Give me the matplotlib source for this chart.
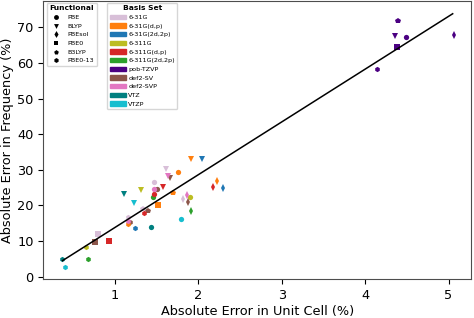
import matplotlib
matplotlib.use("Agg")
import matplotlib.pyplot as plt
from matplotlib.lines import Line2D
from matplotlib.patches import Patch

# legend entries
functionals = ["PBE", "BLYP", "PBEsol", "PBE0", "B3LYP", "PBE0-13"]
func_markers = {"PBE": "o", "BLYP": "v", "PBEsol": "d", "PBE0": "s", "B3LYP": "p", "PBE0-13": "h"}

basis_sets = ["6-31G", "6-31G(d,p)", "6-31G(2d,2p)", "6-311G", "6-311G(d,p)", "6-311G(2d,2p)",
              "pob-TZVP", "def2-SV", "def2-SVP", "VTZ", "VTZP"]
basis_colors = {
    "6-31G": "#d8bfd8", "6-31G(d,p)": "#ff7f0e", "6-31G(2d,2p)": "#1f77b4",
    "6-311G": "#bcbd22", "6-311G(d,p)": "#d62728", "6-311G(2d,2p)": "#2ca02c",
    "pob-TZVP": "#4b0082", "def2-SV": "#8c564b", "def2-SVP": "#e377c2",
    "VTZ": "#008080", "VTZP": "#17becf",
}

# points
cell_err = [0.37, 1.11, 1.43,
            0.40, 1.23, 1.79,
            0.68, 1.46, 1.91,
            0.65, 1.31, 1.90,
            0.76, 1.18, 1.40, 1.50, 1.66, 1.87,
            0.79, 1.15, 1.34, 1.47, 1.61, 1.81,
            0.93, 1.35, 1.47, 1.58, 2.17,
            1.16, 1.52, 1.70, 1.76, 1.91, 2.22,
            1.24, 2.04, 2.30,
            1.16, 1.47, 1.64, 1.86,
            4.39, 4.36, 4.49, 4.38, 4.14, 5.06]
freq_err = [5.0, 23.2, 13.9,
            2.8, 20.7, 16.1,
            5.0, 22.4, 18.5,
            8.4, 24.2, 22.3,
            9.6, 15.3, 18.5, 24.7, 27.8, 20.9,
            12.0, 16.7, 19.0, 26.7, 30.2, 21.8,
            10.0, 17.8, 23.3, 25.2, 25.1,
            14.8, 20.1, 23.4, 29.5, 33.1, 26.8,
            13.8, 33.1, 24.8,
            15.7, 24.7, 28.2, 23.0,
            71.9, 67.6, 67.2, 64.6, 58.3, 67.9]
point_basis = (["VTZ"] * 3 + ["VTZP"] * 3 + ["6-311G(2d,2p)"] * 3 + ["6-311G"] * 3
               + ["def2-SV"] * 6 + ["6-31G"] * 6 + ["6-311G(d,p)"] * 5 + ["6-31G(d,p)"] * 6
               + ["6-31G(2d,2p)"] * 3 + ["def2-SVP"] * 4 + ["pob-TZVP"] * 6)
point_func = (["PBE0-13", "BLYP", "PBE"] * 2
              + ["PBE0-13", "PBE", "PBEsol"]
              + ["PBE0-13", "BLYP", "PBE"]
              + ["PBE0", "PBE0-13", "B3LYP", "PBE", "BLYP", "PBEsol"] * 2
              + ["PBE0", "PBE0-13", "PBE", "BLYP", "PBEsol"]
              + ["PBE0-13", "PBE0", "B3LYP", "PBE", "BLYP", "PBEsol"]
              + ["PBE0-13", "BLYP", "PBEsol"]
              + ["PBE0-13", "PBE", "BLYP", "PBEsol"]
              + ["B3LYP", "BLYP", "PBE", "PBE0", "PBE0-13", "PBEsol"])

# linear fit line endpoints
fit_x = [0.37, 5.05]
fit_y = [4.5, 73.8]

fig = plt.figure(figsize=(4.74, 3.18), dpi=100)
ax = fig.add_axes([0.0914, 0.1226, 0.9023, 0.8745])

for x, y, b, f in zip(cell_err, freq_err, point_basis, point_func):
    ax.plot(x, y, linestyle="none", marker=func_markers[f], color=basis_colors[b],
            markersize=3.8, markeredgewidth=0)

ax.plot(fit_x, fit_y, color="black", linewidth=1.1)

ax.set_xlim(0.14, 5.27)
ax.set_ylim(-0.65, 77.4)
ax.set_xticks([1, 2, 3, 4, 5])
ax.set_yticks([0, 10, 20, 30, 40, 50, 60, 70])
ax.tick_params(labelsize=9.3)
ax.set_xlabel("Absolute Error in Unit Cell (%)", fontsize=9.3, labelpad=2)
ax.set_ylabel("Absolute Error in Frequency (%)", fontsize=9.3, labelpad=2)
for sp in ax.spines.values():
    sp.set_color("0.3")

func_handles = [Line2D([], [], linestyle="none", marker=func_markers[f], color="black",
                       markersize=3.5, markeredgewidth=0) for f in functionals]
leg1 = ax.legend(func_handles, functionals, title="Functional", loc="upper left",
                 bbox_to_anchor=(0.0087, 0.993), borderaxespad=0, fontsize=4.6,
                 title_fontproperties={"weight": "bold", "size": 5.4})
ax.add_artist(leg1)

basis_handles = [Patch(color=basis_colors[b]) for b in basis_sets]
ax.legend(basis_handles, basis_sets, title="Basis Set", loc="upper left",
          bbox_to_anchor=(0.149, 0.993), borderaxespad=0, fontsize=4.6,
          handlelength=2.5, handletextpad=0.4,
          title_fontproperties={"weight": "bold", "size": 5.4})

fig.savefig("out.png", dpi=100)
